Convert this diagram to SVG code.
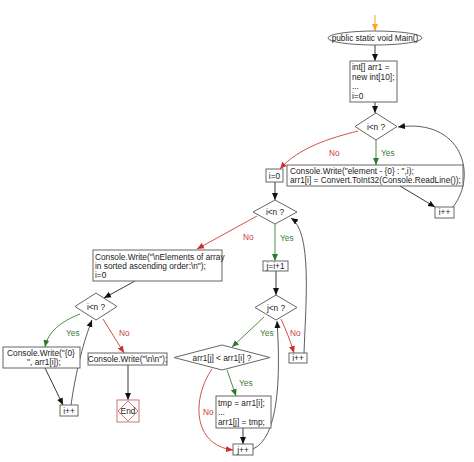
<svg xmlns="http://www.w3.org/2000/svg" width="474" height="462" viewBox="0 0 474 462">
<style>
text{font-family:"Liberation Sans",Arial,sans-serif;font-size:8.3px;fill:#222}
.box{fill:#fff;stroke:#666;stroke-width:1}
.end{fill:#fff;stroke:#c77;stroke-width:1}
.c{text-anchor:middle}
.ln{fill:none;stroke:#333;stroke-width:0.8}
.k{fill:none;stroke:#222;stroke-width:0.9}
.g{fill:none;stroke:#3c7d3c;stroke-width:0.9}
.r{fill:none;stroke:#cc3b3b;stroke-width:0.9}
.o{fill:none;stroke:#f5a623;stroke-width:1}
.gt{fill:#3c7d3c}
.rt{fill:#cc3b3b}
</style>
<defs>
<marker id="ak" markerWidth="8" markerHeight="8" refX="7" refY="4" orient="auto" markerUnits="userSpaceOnUse"><path d="M0,1 L7,4 L0,7 Z" fill="#111"/></marker>
<marker id="ag" markerWidth="8" markerHeight="8" refX="7" refY="4" orient="auto" markerUnits="userSpaceOnUse"><path d="M0,1 L7,4 L0,7 Z" fill="#2f7a2f"/></marker>
<marker id="ar" markerWidth="8" markerHeight="8" refX="7" refY="4" orient="auto" markerUnits="userSpaceOnUse"><path d="M0,1 L7,4 L0,7 Z" fill="#cc2f2f"/></marker>
<marker id="ao" markerWidth="8" markerHeight="8" refX="7" refY="4" orient="auto" markerUnits="userSpaceOnUse"><path d="M0,1 L7,4 L0,7 Z" fill="#f5a623"/></marker>
</defs>

<g id="connectors">
<path class="o" d="M375,15 L375,31" marker-end="url(#ao)"/>
<path class="k" d="M375,45 L375,61" marker-end="url(#ak)"/>
<path class="k" d="M375,102 L375,113" marker-end="url(#ak)"/>
<path class="g" d="M376,140 L376,165" marker-end="url(#ag)"/>
<path class="r" d="M358,131 C330,138 298,148 280,169" marker-end="url(#ar)"/>
<path class="k" d="M400,186 L435,207" marker-end="url(#ak)"/>
<path class="ln" d="M453,207 C478,175 462,118 398,127" marker-end="url(#ak)"/>
<path class="k" d="M275,182 L275,200" marker-end="url(#ak)"/>
<path class="g" d="M275,224 L275,261" marker-end="url(#ag)"/>
<path class="r" d="M257,216 L197,249" marker-end="url(#ar)"/>
<path class="k" d="M276,271 L276,295" marker-end="url(#ak)"/>
<path class="ln" d="M304,353 C306,300 312,232 291,218" marker-end="url(#ak)"/>
<path class="k" d="M135,281 L104,298" marker-end="url(#ak)"/>
<path class="g" d="M264,317 L232,347" marker-end="url(#ag)"/>
<path class="r" d="M281,319 C286,330 290,340 294,353" marker-end="url(#ar)"/>
<path class="g" d="M227,370 L236,396" marker-end="url(#ag)"/>
<path class="r" d="M212,369 C192,398 192,445 233,450" marker-end="url(#ar)"/>
<path class="k" d="M243,428 L243,444" marker-end="url(#ak)"/>
<path class="ln" d="M253,449 C278,438 281,380 277,321" marker-end="url(#ak)"/>
<path class="g" d="M80,314 C60,322 48,332 45,347" marker-end="url(#ag)"/>
<path class="r" d="M103,319 L124,353" marker-end="url(#ar)"/>
<path class="k" d="M128,365 L128,400" marker-end="url(#ak)"/>
<path class="k" d="M45,368 L63,405" marker-end="url(#ak)"/>
<path class="ln" d="M71,405 C76,370 84,340 92,320" marker-end="url(#ak)"/>
<text class="gt" x="381" y="156">Yes</text>
<text class="rt" x="329" y="156">No</text>
<text class="gt" x="280" y="241">Yes</text>
<text class="rt" x="243" y="240">No</text>
<text class="gt" x="260" y="336">Yes</text>
<text class="rt" x="290" y="336">No</text>
<text class="gt" x="239" y="386">Yes</text>
<text class="rt" x="203" y="415">No</text>
<text class="gt" x="66" y="336">Yes</text>
<text class="rt" x="119" y="336">No</text>
</g>

<g id="start">
<ellipse class="box" cx="375" cy="38" rx="47" ry="7"/>
<text class="c" x="375" y="41">public static void Main()</text>
</g>
<g id="init">
<rect class="box" x="350" y="61" width="47" height="41"/>
<text x="352" y="70">int[] arr1 =</text>
<text x="352" y="80">new int[10];</text>
<text x="352" y="89">...</text>
<text x="352" y="99">i=0</text>
</g>
<g id="cond1">
<polygon class="box" points="376,113 397,126.5 376,140 355,126.5"/>
<text class="c" x="376" y="129.5">i&lt;n ?</text>
</g>
<g id="read">
<rect class="box" x="287" y="165" width="176" height="21"/>
<text x="290" y="174">Console.Write("element - {0} : ",i);</text>
<text x="290" y="183">arr1[i] = Convert.ToInt32(Console.ReadLine());</text>
</g>
<g id="inc1">
<rect class="box" x="435" y="207" width="19" height="11"/>
<text class="c" x="444.5" y="215">i++</text>
</g>
<g id="i0">
<rect class="box" x="266" y="169" width="17" height="13"/>
<text class="c" x="274.5" y="178.5">i=0</text>
</g>
<g id="cond2">
<polygon class="box" points="275,200 297,212 275,224 253,212"/>
<text class="c" x="275" y="215">i&lt;n ?</text>
</g>
<g id="ji1">
<rect class="box" x="263" y="261" width="25" height="10"/>
<text class="c" x="275.5" y="269">j=i+1</text>
</g>
<g id="cond3">
<polygon class="box" points="276,295 297,307.5 276,320 255,307.5"/>
<text class="c" x="276" y="310.5">j&lt;n ?</text>
</g>
<g id="inc2">
<rect class="box" x="289" y="353" width="18" height="10"/>
<text class="c" x="298" y="361">i++</text>
</g>
<g id="cond4">
<polygon class="box" points="222,345 270,357.5 222,370 174,357.5"/>
<text class="c" x="222" y="360.5">arr1[j] &lt; arr1[i] ?</text>
</g>
<g id="swap">
<rect class="box" x="216" y="396" width="55" height="32"/>
<text x="218" y="406">tmp = arr1[i];</text>
<text x="218" y="415">...</text>
<text x="218" y="425">arr1[j] = tmp;</text>
</g>
<g id="jinc">
<rect class="box" x="233" y="444" width="20" height="11"/>
<text class="c" x="243" y="452.5">j++</text>
</g>
<g id="msg">
<rect class="box" x="93" y="250" width="129" height="31"/>
<text x="95" y="260">Console.Write("\nElements of array</text>
<text x="95" y="269">in sorted ascending order:\n");</text>
<text x="95" y="278">i=0</text>
</g>
<g id="cond5">
<polygon class="box" points="96,293 117,306.5 96,320 75,306.5"/>
<text class="c" x="96" y="309.5">i&lt;n ?</text>
</g>
<g id="print">
<rect class="box" x="3" y="347" width="77" height="21"/>
<text class="c" x="41" y="356">Console.Write("{0}</text>
<text class="c" x="44" y="365">", arr1[i]);</text>
</g>
<g id="inc3">
<rect class="box" x="60" y="405" width="18" height="11"/>
<text class="c" x="69" y="413.5">i++</text>
</g>
<g id="newline">
<rect class="box" x="88" y="353" width="79" height="12"/>
<text class="c" x="127.5" y="362">Console.Write("\n\n");</text>
</g>
<g id="end">
<rect class="end" x="117" y="400" width="22" height="22"/>
<polygon class="end" points="128,401 138,411 128,421 118,411"/>
<text class="c" x="128" y="414">End</text>
</g>
</svg>
